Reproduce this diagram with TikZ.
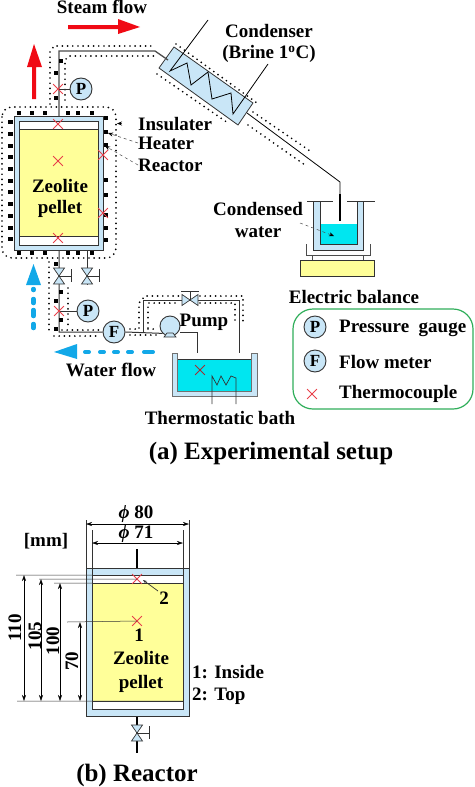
\documentclass[tikz,border=0pt]{standalone}
\usepackage{fontspec}
\setmainfont{Liberation Serif}
\usetikzlibrary{shapes.misc,arrows.meta}
\definecolor{pale}{HTML}{C9E6F7}
\definecolor{pellet}{HTML}{FFFF99}
\definecolor{water}{HTML}{00E6F0}
\definecolor{flowred}{HTML}{F00A14}
\definecolor{flowblue}{HTML}{12A8E8}
\definecolor{legendgreen}{HTML}{2FAE5A}
\definecolor{xred}{HTML}{E8404A}
\definecolor{pipe}{HTML}{333333}
\tikzset{
 lbl/.style={font=\bfseries\fontsize{19}{19}\selectfont,inner sep=0pt,align=center},
 title/.style={font=\bfseries\fontsize{25}{25}\selectfont,inner sep=0pt},
 ins/.style={line width=1.9pt,line cap=round,dash pattern=on 0pt off 5.2pt,black},
 pipeline/.style={draw=pipe,line width=1pt},
 wire/.style={draw=black,line width=.8pt},
 gauge/.style={circle,draw=pipe,fill=pale,line width=.9pt,minimum size=22pt,inner sep=0pt,font=\bfseries\fontsize{17}{17}\selectfont},
 xmark/.style={cross out,draw=xred,line width=.8pt,minimum size=9pt,inner sep=0pt},
 sq/.style={fill=black,minimum size=4.2pt,inner sep=0pt},
 leader/.style={draw=black!70,line width=.5pt,dashed,-{Stealth[length=5pt,width=4pt,black]}},
 dim/.style={draw=black,line width=.5pt,{Stealth[length=6pt,width=4pt]}-{Stealth[length=6pt,width=4pt]}},
 ext/.style={draw=black!80,line width=.5pt},
 vvalve/.pic={\fill[pale,draw=pipe,line width=.7pt] (-5.5,-8)--(5.5,-8)--(0,0)--cycle (-5.5,8)--(5.5,8)--(0,0)--cycle;
   \draw[pipe,line width=.6pt] (0,0)--(12,0) (12,-7)--(12,6);},
 hvalve/.pic={\fill[pale,draw=pipe,line width=.7pt] (-8,-5.5)--(-8,5.5)--(0,0)--cycle (8,-5.5)--(8,5.5)--(0,0)--cycle;
   \draw[pipe,line width=.6pt] (0,0)--(0,-9) (-9,-9)--(9,-9);},
}
\begin{document}
\begin{tikzpicture}[x=1pt,y=-1pt]
\useasboundingbox (0,0) rectangle (474,787);
% insulation dots
\draw[ins,rounded corners=10pt] (2,107) rectangle (116,258);
\draw[ins] (50,104)--(50,52)--(54,46)--(155,46);
\draw[ins] (65,100)--(65,60)--(69,56)--(158,56);
\draw[ins] (176,44)--(257,103) (157,74)--(228,123);
\draw[ins] (253,112)--(313,153) (248,125)--(305,165);
\draw[ins] (49,262)--(49,333) (54,336)--(100,336) (130,335)--(158,335);
\draw[ins] (68,288)--(68,325) (62,330)--(100,330) (130,329)--(139,329) (148,329)--(158,329);
\draw[ins] (139,328)--(139,303)--(145,296)--(180,296) (200,296)--(243,296)--(243,322);
\draw[ins] (148,328)--(148,303)--(180,303) (200,303)--(235,303)--(235,322);
% reactor (a)
\node[draw=pipe,fill=pale,line width=1pt,minimum width=89.5pt,minimum height=134pt,inner sep=0pt,anchor=north west] (reactorA) at (13.5,116) {};
\node[draw=pipe,fill=white,line width=.9pt,minimum width=79pt,minimum height=124pt,inner sep=0pt,anchor=north west] (innerA) at (19,121) {};
\node[draw=none,fill=pellet,minimum width=78pt,minimum height=107pt,inner sep=0pt,anchor=north west] (pelletA) at (19.5,129) {};
\draw[pipeline] (pelletA.north west)--(pelletA.north east) (pelletA.south west)--(pelletA.south east);
\draw[pipe,line width=.9pt] (innerA.north west) rectangle (innerA.south east);
% condenser
\coordinate (cin) at (155,51);
\coordinate (cond1) at (168,60);
\coordinate (cond2) at (247,113);
\fill[pale,draw=pipe,line width=.8pt] (174,47)--(159,68)--(238,125)--(253,103)--cycle;
\draw[black!70,line width=1.3pt] (59,116)--(59,51)--(cin)--(cond1);
\coordinate (tc1) at (208,20);
\coordinate (tc2) at (268,64);
\draw[wire] (tc1)--(170,71)--(187,63)--(191,85)--(208,72)--(212,99)--(231,93)--(233,114)--(tc2);
% collecting vessel
\fill[pale] (313,201) rectangle (363,250);
\fill[white] (320,201) rectangle (357,244);
\fill[water] (320,224) rectangle (357,244);
\draw[pipe,line width=.9pt] (313,201)--(313,250)--(363,250)--(363,201) (320,201)--(320,244)--(357,244)--(357,201);
\draw[pipe,line width=.9pt] (307,201)--(333,201) (347,201)--(375,201);
\draw[black!70,line width=.7pt] (306,244)--(306,255)--(370,255)--(370,244) (312,255)--(312,260) (363,255)--(363,260);
\node[draw=pipe,fill=pellet,line width=.8pt,minimum width=74pt,minimum height=16pt,inner sep=0pt,anchor=north west] (scale) at (300,260) {};
% outlet line
\coordinate (tip) at (340,182);
\coordinate (tipb) at (340,221);
\draw[wire] (cond2)--(tip)--(340,194);
\draw[black,line width=1.5pt] (340,194)--(tipb);
% pipes lower
\node[gauge] (P1) at (81,89) {P};
\node[gauge] (P2) at (88,311) {P};
\node[gauge] (F1) at (114,332) {F};
\node[circle,draw=pipe,fill=pale,line width=.9pt,minimum size=20pt,inner sep=0pt] (pump) at (170,326) {};
\fill[pale,draw=pipe,line width=.7pt] (164,337)--(167,333)--(173,333)--(176,337)--cycle;
\draw[pipe,line width=.8pt] (59,89)--(P1.west);
\draw[pipe,line width=1pt] (59,250)--(59,332)--(F1.west) (F1.east)--(pump.south west);
\draw[pipe,line width=.8pt] (59,311)--(P2.west);
\draw[pipe,line width=1pt] (87,250)--(87,285);
\draw[pipe,line width=.9pt] (143,332)--(143,300)--(239,300)--(239,353);
\draw[pipe,line width=.9pt] (pump.east |- 0,332)--(197,332)--(197,353);
\pic at (59,276) {vvalve};
\pic at (87,276) {vvalve};
\pic at (190,300) {hvalve};
% bath
\fill[pale,draw=pipe!70,line width=.8pt] (172,353) rectangle (257,396);
\fill[white] (177,353) rectangle (251,359);
\fill[water] (177,359) rectangle (251,391);
\draw[pipe,line width=.9pt] (177,359)--(251,359);
\draw[pipe!70,line width=.8pt] (177,353)--(177,391)--(251,391)--(251,353);
\draw[pipe,line width=.7pt] (212,404)--(212,376)--(217,385)--(221,376)--(226,385)--(231,376)--(236,378)--(236,404);
% heater squares
\foreach \x in {19,32,45,68,78,92} {\node[sq] at (\x,113) {}; \node[sq] at (\x,253) {};}
\foreach \y in {122,134,146,157,169,181,192,204,216,228,239} {\node[sq] at (10.5,\y) {};}
\foreach \y in {118,132,145,180,195,215,228,240} {\node[sq] at (106,\y) {};}
\node[sq] at (61,61) {}; \node[sq] at (56,73) {}; \node[sq] at (56,98) {};
\node[sq] at (56,264) {}; \node[sq] at (61,292) {}; \node[sq] at (56,301) {}; \node[sq] at (61,320) {}; \node[sq] at (56,329) {};
% thermocouples
\node[xmark] (x1) at (58,89) {};
\node[xmark] (x2) at (58,124) {};
\node[xmark] (x3) at (58,161) {};
\node[xmark] (x4) at (103,155) {};
\node[xmark] (x5) at (103,213) {};
\node[xmark] (x6) at (58,238) {};
\node[xmark] (x7) at (59,311) {};
\node[xmark,draw=xred!70!black] (x8) at (200,370) {};
% flow arrows
\fill[flowred] (68,25)--(118,25)--(118,19)--(140,27)--(118,34)--(118,29)--(68,29)--cycle;
\fill[flowred] (32,99)--(32,67)--(27,67)--(34,44)--(42,67)--(36,67)--(36,99)--cycle;
\fill[flowblue] (26,285)--(33.5,264)--(41,285)--cycle;
\foreach \a/\b in {289/290,299/303,310/316,324/328} {\draw[flowblue,line width=4.5pt,line cap=round] (33.5,\a)--(33.5,\b);}
\fill[flowblue] (54,352)--(77,344)--(77,359)--cycle;
\foreach \a/\b in {85/89,100/104,114/118,128/132,144/153} {\draw[flowblue,line width=4pt,line cap=round] (\a,352)--(\b,352);}
% labels (a)
\node[lbl] (tSteam) at (102,7) {Steam flow};
\node[lbl] (tCond) at (269,31) {Condenser};
\node[lbl] (tBrine) at (269,54) {(Brine 1\textsuperscript{o}C)};
\node[lbl,anchor=west] (tIns) at (138,124) {Insulater};
\node[lbl,anchor=west] (tHeat) at (138,143) {Heater};
\node[lbl,anchor=west] (tReac) at (138,165) {Reactor};
\draw[leader] (tHeat.west)--(108,133);
\draw[leader] (tReac.west)--(105,146);
\draw[leader] (122,123.5)--(117,123.5);
\node[lbl] (tZ) at (60,186) {Zeolite};
\node[lbl] (tP) at (60,209) {pellet};
\node[lbl] (tCw) at (258,209) {Condensed};
\node[lbl] (tW) at (258,232) {water};
\draw[leader] (300,223)--(334,236);
\node[lbl] (tBal) at (354,297) {Electric balance};
\node[lbl] (tPump) at (204,322) {Pump};
\node[lbl] (tWf) at (111,370) {Water flow};
\node[lbl] (tBath) at (220,418) {Thermostatic bath};
% legend
\draw[legendgreen,line width=1.2pt,rounded corners=20pt] (293,309) rectangle (473,409);
\node[gauge] (lP) at (315,327) {P};
\node[gauge] (lF) at (315,361) {F};
\node[xmark] (lX) at (312,394) {};
\node[lbl,anchor=west] at (339,328) {Pressure\ \ gauge};
\node[lbl,anchor=west] at (339,362) {Flow meter};
\node[lbl,anchor=west] at (339,394) {Thermocouple};
\node[title] (capA) at (271,453) {(a) Experimental setup};
% reactor (b)
\coordinate (stemT) at (137,549);
\coordinate (stemB) at (137,753);
\draw[black,line width=1.2pt] (stemT)--(137,568) (137,716)--(stemB);
\node[draw=pipe,fill=pale,line width=1pt,minimum width=103pt,minimum height=148pt,inner sep=0pt,anchor=north west] (reactorB) at (86,568) {};
\node[draw=none,fill=white,minimum width=91pt,minimum height=134pt,inner sep=0pt,anchor=north west] (innerB) at (92,575) {};
\node[draw=none,fill=pellet,minimum width=91pt,minimum height=118pt,inner sep=0pt,anchor=north west] (pelletB) at (92,583) {};
\draw[pipe,line width=.9pt] (innerB.north west) rectangle (innerB.south east);
\draw[pipe,line width=.9pt] (pelletB.north west)--(pelletB.north east) (pelletB.south west)--(pelletB.south east);
\pic at (137,733) {vvalve};
\node[xmark] (xb2) at (137,579) {};
\node[xmark] (xb1) at (137,621) {};
% dims
\draw[ext] (86,520)--(86,568) (189,520)--(189,568) (92,530)--(92,575) (183,530)--(183,575);
\draw[dim] (86,524)--(189,524);
\draw[dim] (92,543)--(183,543);
\draw[ext] (16,575)--(92,575) (39,579)--(xb2.center) (54,583)--(92,583) (67,622)--(xb1.center) (17,701)--(183,701);
\draw[dim] (24,575)--(24,701);
\draw[dim] (41,579)--(41,701);
\draw[dim] (60,583)--(60,701);
\draw[dim] (80,622)--(80,701);
\node[lbl,rotate=90] at (15,628) {110};
\node[lbl,rotate=90] at (35,636) {105};
\node[lbl,rotate=90] at (53,641) {100};
\node[lbl,rotate=90] at (72,661) {70};
\node[lbl] at (136,514) {\textit{ϕ} 80};
\node[lbl] at (136,534) {\textit{ϕ} 71};
\node[lbl] at (46,541) {[mm]};
\node[lbl] (n2) at (164,598) {2};
\draw[ext,line width=.7pt,{Stealth[length=4pt,width=3pt]}-] (143,580)--(158,591);
\node[lbl] at (139,635) {1};
\node[lbl] at (141,658) {Zeolite};
\node[lbl] at (141,684) {pellet};
\node[lbl,anchor=west] at (192,672) {1: Inside};
\node[lbl,anchor=west] at (192,696) {2: Top};
\node[title] (capB) at (137,775) {(b) Reactor};
\end{tikzpicture}
\end{document}
